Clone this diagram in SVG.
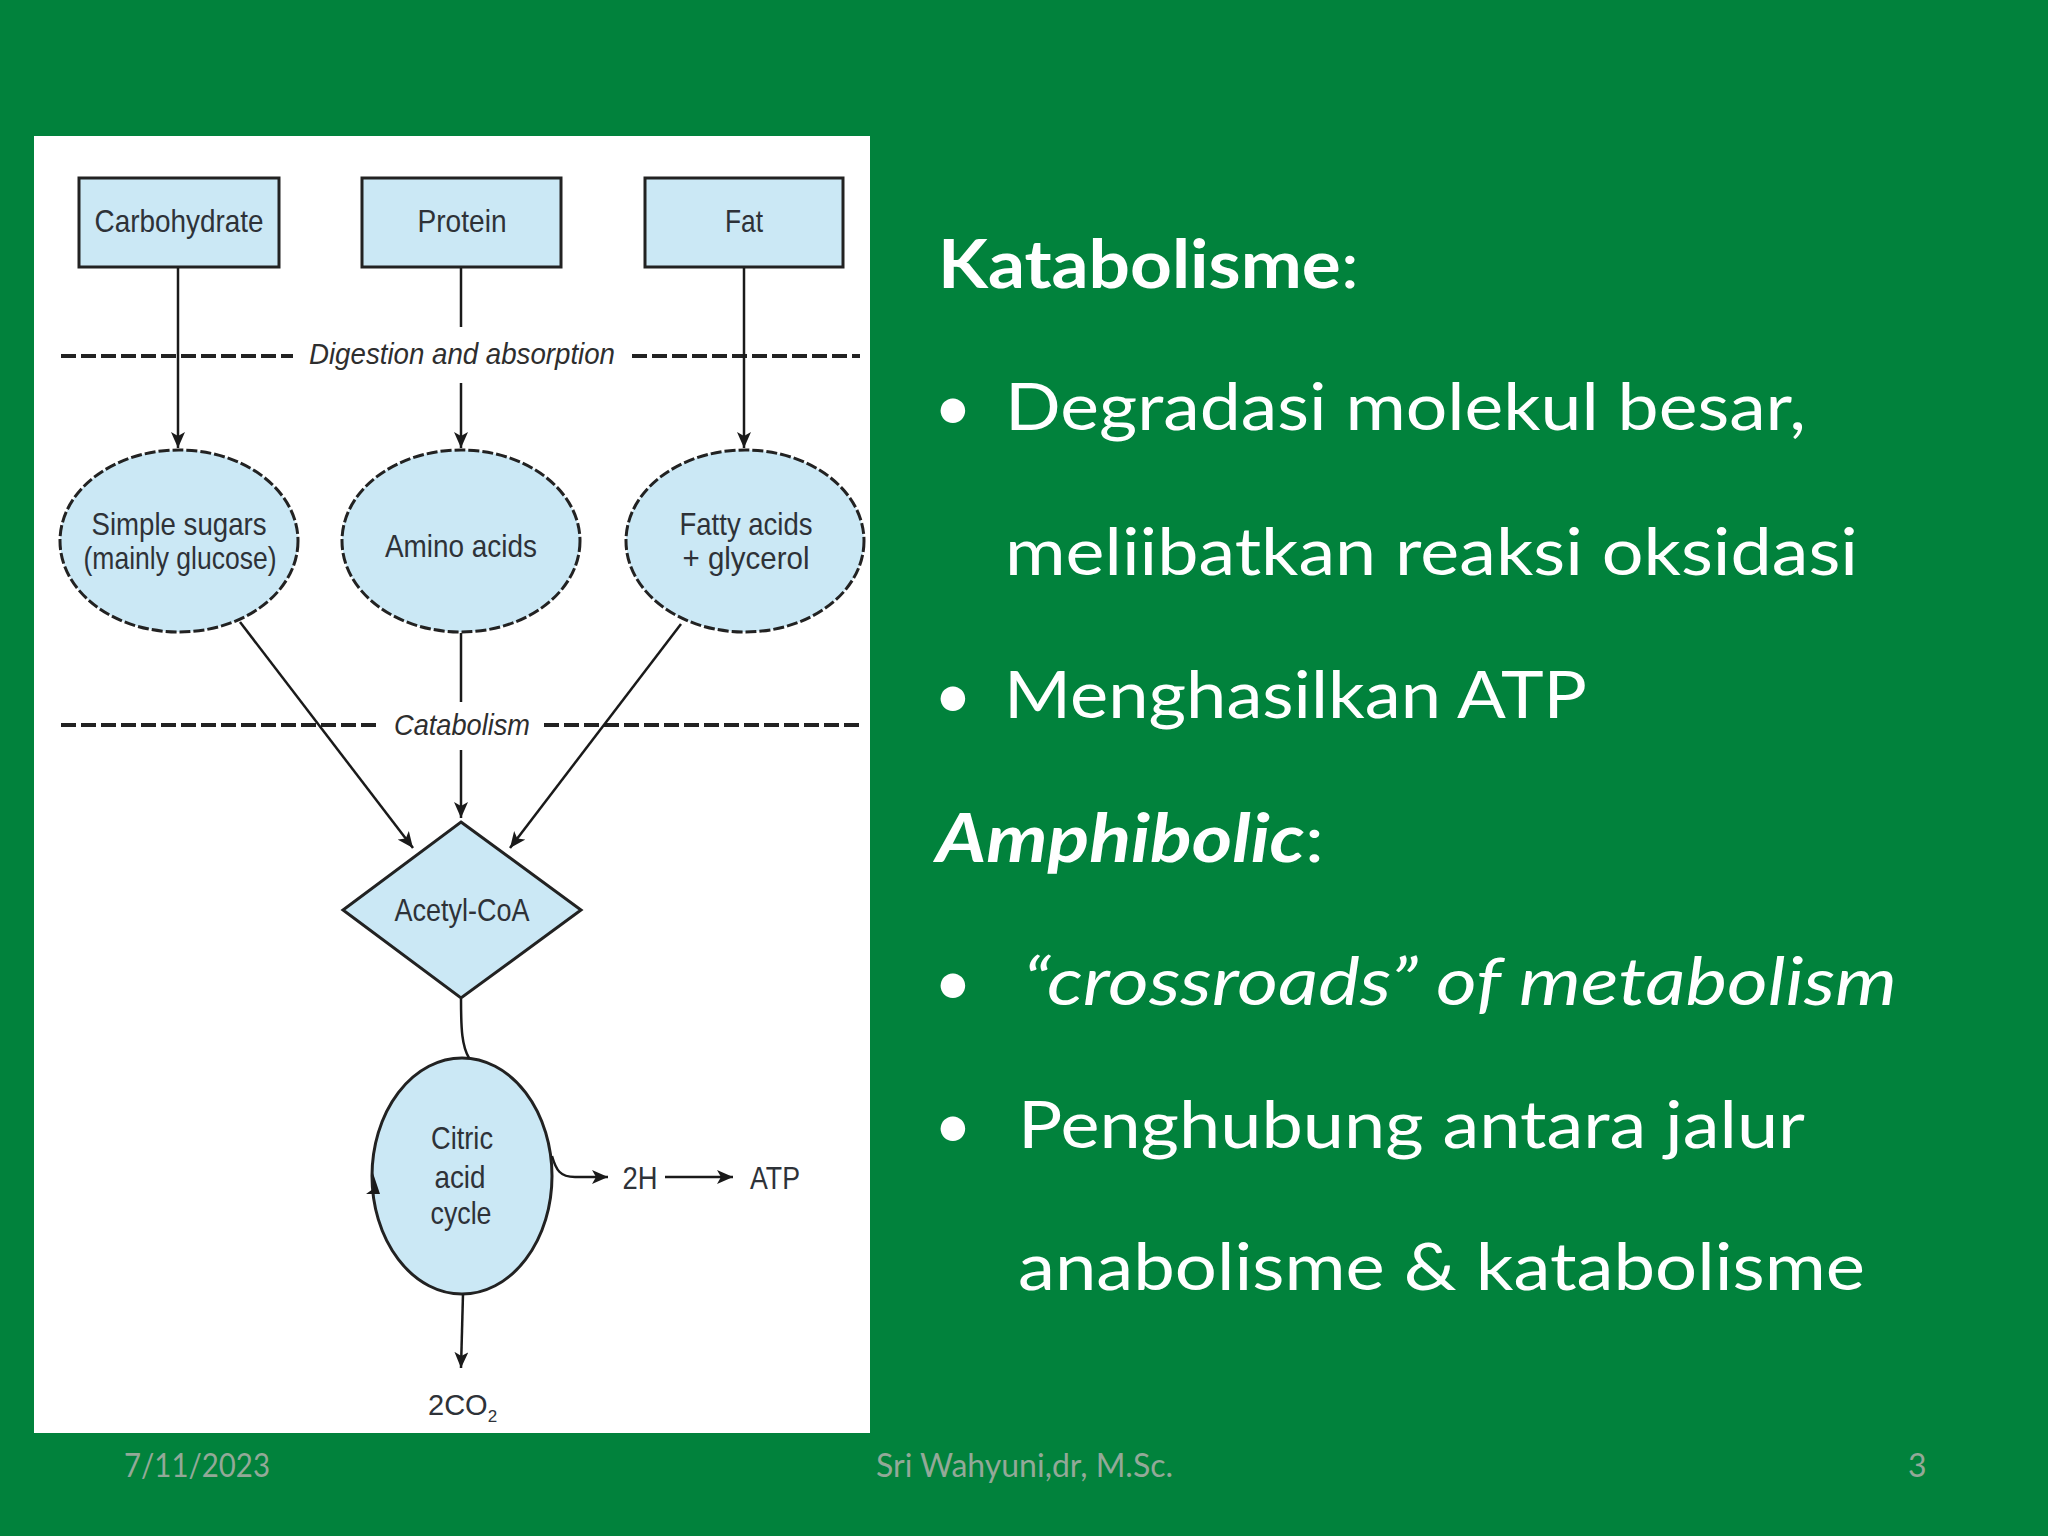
<svg xmlns="http://www.w3.org/2000/svg" width="2048" height="1536" viewBox="0 0 2048 1536">
<style>
.bg{fill:#01823C}
.panel{fill:#ffffff}
.box{fill:#cbe8f5;stroke:#222;stroke-width:3}
.ell{fill:#cbe8f5;stroke:#222;stroke-width:3;stroke-dasharray:11 3}
.cyc{fill:#cbe8f5;stroke:#222;stroke-width:3}
.dt{font-family:"Liberation Sans",Arial,sans-serif;font-size:32px;fill:#2e3238;text-anchor:middle}
.lab{font-family:"Liberation Sans",Arial,sans-serif;font-size:30px;font-style:italic;fill:#2e2e2e}
.sep{stroke:#222;stroke-width:4;stroke-dasharray:15 5;fill:none}
.ln{stroke:#1a1a1a;stroke-width:2.5;fill:none}
.arr{marker-end:url(#ah)}
.rt{font-family:Lato,"Open Sans",sans-serif;font-size:66px;fill:#ffffff}
.b{font-weight:bold}
.bul{font-family:Lato,"Open Sans",sans-serif;font-size:66px;fill:#ffffff;text-anchor:middle}
.ft{font-family:Lato,"Open Sans",sans-serif;font-size:32px;fill:#93a998}
</style>
<defs>
<marker id="ah" markerUnits="userSpaceOnUse" markerWidth="18" markerHeight="14" refX="16" refY="7" orient="auto">
<path d="M0,0 L16,7 L0,14 L4,7 z" fill="#1a1a1a"/>
</marker>
</defs>
<rect class="bg" x="0" y="0" width="2048" height="1536"/>
<rect class="panel" x="34" y="136" width="836" height="1297"/>

<g id="separators">
<line class="sep" x1="61" y1="356" x2="293" y2="356"/>
<line class="sep" x1="632" y1="356" x2="860" y2="356"/>
<text class="lab" x="309" y="364" textLength="306" lengthAdjust="spacingAndGlyphs">Digestion and absorption</text>
<line class="sep" x1="61" y1="725" x2="378" y2="725"/>
<line class="sep" x1="544" y1="725" x2="862" y2="725"/>
<text class="lab" x="394" y="735" textLength="136" lengthAdjust="spacingAndGlyphs">Catabolism</text>
</g>

<g id="node-carbohydrate">
<rect class="box" x="79" y="178" width="200" height="89"/>
<text class="dt" x="179" y="232" textLength="169" lengthAdjust="spacingAndGlyphs">Carbohydrate</text>
</g>
<g id="node-protein">
<rect class="box" x="362" y="178" width="199" height="89"/>
<text class="dt" x="462" y="232" textLength="89" lengthAdjust="spacingAndGlyphs">Protein</text>
</g>
<g id="node-fat">
<rect class="box" x="645" y="178" width="198" height="89"/>
<text class="dt" x="744" y="232" textLength="38" lengthAdjust="spacingAndGlyphs">Fat</text>
</g>

<g id="node-simple-sugars">
<ellipse class="ell" cx="179" cy="541" rx="119" ry="91"/>
<text class="dt" x="179" y="535" textLength="175" lengthAdjust="spacingAndGlyphs">Simple sugars</text>
<text class="dt" x="180" y="569" textLength="193" lengthAdjust="spacingAndGlyphs">(mainly glucose)</text>
</g>
<g id="node-amino-acids">
<ellipse class="ell" cx="461" cy="541" rx="119" ry="91"/>
<text class="dt" x="461" y="557" textLength="152" lengthAdjust="spacingAndGlyphs">Amino acids</text>
</g>
<g id="node-fatty-acids">
<ellipse class="ell" cx="745" cy="541" rx="119" ry="91"/>
<text class="dt" x="746" y="535" textLength="133" lengthAdjust="spacingAndGlyphs">Fatty acids</text>
<text class="dt" x="746" y="569" textLength="127" lengthAdjust="spacingAndGlyphs">+ glycerol</text>
</g>

<g id="node-acetyl-coa">
<polygon class="box" points="461,822 581,910 461,998 343,910"/>
<text class="dt" x="462" y="921" textLength="135" lengthAdjust="spacingAndGlyphs">Acetyl-CoA</text>
</g>

<g id="node-citric-acid-cycle">
<ellipse class="cyc" cx="462" cy="1176" rx="90" ry="118"/>
<text class="dt" x="462" y="1149" textLength="62" lengthAdjust="spacingAndGlyphs">Citric</text>
<text class="dt" x="460" y="1188" textLength="51" lengthAdjust="spacingAndGlyphs">acid</text>
<text class="dt" x="461" y="1224" textLength="61" lengthAdjust="spacingAndGlyphs">cycle</text>
</g>

<g id="node-2h">
<text class="dt" x="640" y="1189" textLength="35" lengthAdjust="spacingAndGlyphs">2H</text>
</g>
<g id="node-atp">
<text class="dt" x="775" y="1189" textLength="50" lengthAdjust="spacingAndGlyphs">ATP</text>
</g>
<g id="node-2co2">
<text x="428" y="1415" font-family="Liberation Sans, Arial, sans-serif" font-size="29" fill="#2e3238">2CO<tspan font-size="17" dy="7">2</tspan></text>
</g>

<g id="connectors">
<line class="ln arr" x1="178" y1="268" x2="178" y2="448"/>
<line class="ln" x1="461" y1="268" x2="461" y2="327"/>
<line class="ln arr" x1="461" y1="383" x2="461" y2="448"/>
<line class="ln arr" x1="744" y1="268" x2="744" y2="448"/>
<line class="ln arr" x1="240" y1="622" x2="413" y2="848"/>
<line class="ln" x1="461" y1="633" x2="461" y2="702"/>
<line class="ln arr" x1="461" y1="750" x2="461" y2="818"/>
<line class="ln arr" x1="681" y1="624" x2="510" y2="848"/>
<path class="ln" d="M461 999 C461 1030 462 1046 469 1058"/>
<path class="ln arr" d="M552 1156 C556 1170 560 1177 575 1177 L608 1177"/>
<line class="ln arr" x1="665" y1="1177" x2="733" y2="1177"/>
<line class="ln arr" x1="463" y1="1294" x2="461" y2="1368"/>
<path d="M373 1173 L380 1194 L366 1194 L373 1189 z" fill="#1a1a1a"/>
</g>

<g id="right-text">
<text class="rt" x="938" y="288" textLength="421" lengthAdjust="spacingAndGlyphs"><tspan class="b">Katabolisme</tspan>:</text>
<text class="bul" x="953" y="430">•</text>
<text class="rt" x="1005" y="430" textLength="801" lengthAdjust="spacingAndGlyphs">Degradasi molekul besar,</text>
<text class="rt" x="1005" y="575" textLength="853" lengthAdjust="spacingAndGlyphs">meliibatkan reaksi oksidasi</text>
<text class="bul" x="953" y="718">•</text>
<text class="rt" x="1004" y="718" textLength="583" lengthAdjust="spacingAndGlyphs">Menghasilkan ATP</text>
<text class="rt" x="936" y="862" textLength="388" lengthAdjust="spacingAndGlyphs"><tspan class="b" font-style="italic">Amphibolic</tspan>:</text>
<text class="bul" x="953" y="1005">•</text>
<text class="rt" x="1023" y="1005" font-style="italic" textLength="874" lengthAdjust="spacingAndGlyphs">“crossroads” of metabolism</text>
<text class="bul" x="953" y="1148">•</text>
<text class="rt" x="1018" y="1148" textLength="787" lengthAdjust="spacingAndGlyphs">Penghubung antara jalur</text>
<text class="rt" x="1018" y="1290" textLength="847" lengthAdjust="spacingAndGlyphs">anabolisme &amp; katabolisme</text>
</g>

<g id="footer">
<text class="ft" x="124" y="1477" textLength="146" lengthAdjust="spacingAndGlyphs">7/11/2023</text>
<text class="ft" x="876" y="1477" textLength="297" lengthAdjust="spacingAndGlyphs">Sri Wahyuni,dr, M.Sc.</text>
<text class="ft" x="1908" y="1477">3</text>
</g>
</svg>
